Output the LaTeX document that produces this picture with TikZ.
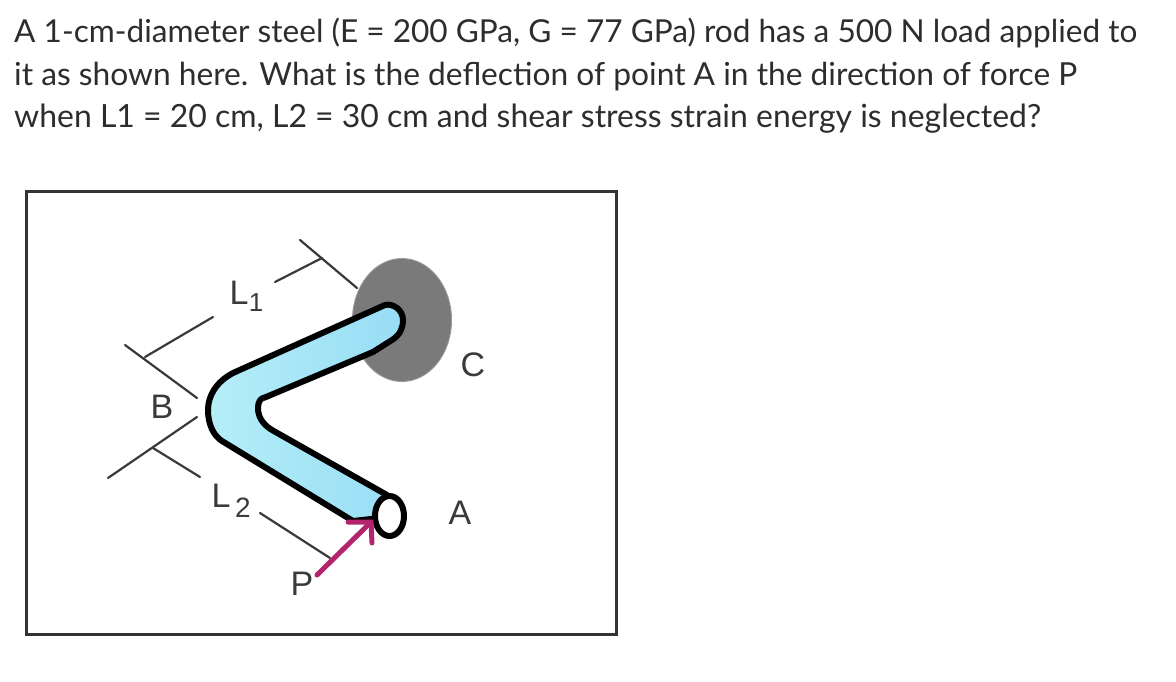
\documentclass[tikz,border=0pt]{standalone}
\usepackage{fontspec}
\setmainfont{Lato}
\newfontfamily\lblfont{Liberation Sans}
\definecolor{framec}{HTML}{333333}
\definecolor{dimc}{HTML}{3A3A3A}
\definecolor{diskc}{HTML}{7A7A7A}
\definecolor{diskedge}{HTML}{9A9A9A}
\definecolor{rodl}{HTML}{B5EEF8}
\definecolor{rodr}{HTML}{98DDF5}
\definecolor{forcec}{HTML}{B3246C}
\definecolor{textc}{HTML}{2D2D2D}
\tikzset{
  qtext/.style={anchor=base west,inner sep=0pt,text=textc,font=\fontsize{31.6}{36}\selectfont},
  dimline/.style={draw=dimc,line width=2.2pt,line cap=round},
  lbl/.style={inner sep=0pt,text=dimc,font=\lblfont\fontsize{34}{38}\selectfont},
  rodedge/.style={draw=black,line width=6pt,line join=round}
}
\begin{document}
\begin{tikzpicture}[x=1pt,y=-1pt]
\useasboundingbox (0,0) rectangle (1176,682);
\fill[white] (0,0) rectangle (1176,682);
\node[qtext] (l1) at (14,43) {A 1-cm-diameter steel (E = 200 GPa, G = 77 GPa) rod has a 500 N load applied to};
\node[qtext,font=\fontsize{31.72}{36}\selectfont] (l2) at (14,86) {it as shown here. What is the deflection of point A in the direction of force P};
\node[qtext,font=\fontsize{31.95}{36}\selectfont] (l3) at (14,128) {when L1 = 20 cm, L2 = 30 cm and shear stress strain energy is neglected?};
\draw[framec,line width=3pt] (26,192) rectangle (616,634);
% wall
\fill[diskedge] (402,320) ellipse [x radius=50,y radius=62];
\fill[diskc] (402,320) ellipse [x radius=49,y radius=61];
% dimension lines
\draw[dimline] (300,240) -- (357,288);
\draw[dimline] (322,258) -- (275,282);
\draw[dimline] (125,345) -- (197,398);
\draw[dimline] (145,357) -- (213,317);
\draw[dimline] (197,417) -- (108,478);
\draw[dimline] (153,448) -- (200,477);
\draw[dimline] (260,513) -- (330,558);
% rod
\draw[rodedge,left color=rodl,right color=rodr]
  (385,305) .. controls (393,303) and (403,310) .. (403,320)
  .. controls (403,328) and (400,335) .. (392,340)
  -- (373,352) -- (266,397) .. controls (260,398) and (258,402) .. (258,408)
  .. controls (258,416) and (262,424) .. (272,430)
  -- (387,495) -- (389,517) -- (353,521) -- (222,441)
  .. controls (214,436) and (208,425) .. (208,410)
  .. controls (208,396) and (216,382) .. (233,373) -- cycle;
\draw[draw=black,fill=white,line width=6pt] (389.5,516) ellipse [x radius=14.5,y radius=20];
% force
\draw[forcec,line width=5pt,line cap=round] (317,575) -- (370,523);
\draw[forcec,line width=5pt,line cap=round] (348,522) -- (371,522) -- (372,543);
% labels
\node[lbl] (L1) at (239,293) {L};
\node[lbl,font=\lblfont\fontsize{26}{28}\selectfont] (L1s) at (256,303) {1};
\node[lbl] (B) at (162,407) {B};
\node[lbl] (C) at (473,365) {C};
\node[lbl] (L2) at (221,496) {L};
\node[lbl,font=\lblfont\fontsize{28}{30}\selectfont] (L2s) at (243,508) {2};
\node[lbl] (A) at (460,513) {A};
\node[lbl] (P) at (302,584) {P};
\end{tikzpicture}
\end{document}
